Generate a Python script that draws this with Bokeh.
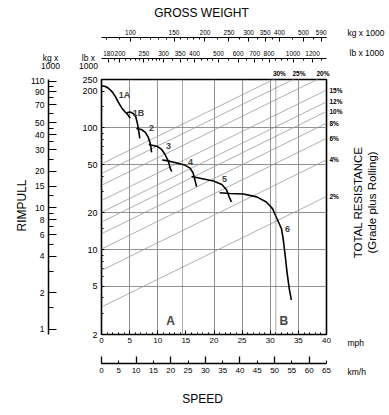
import math
from bokeh.plotting import figure
from bokeh.models import (Range1d, LogScale, LinearScale, LinearAxis, LogAxis, FixedTicker,
                          BasicTickFormatter, SingleIntervalTicker, Label,
                          Span, CustomJSTickFormatter)
from bokeh.embed import file_html
from bokeh.resources import INLINE

# ---------------- data ----------------
speed_range_mph = [0, 40]
speed_range_kmh = [0, 65]
rimpull_range_lb = [2, 250]            # lb x 1000
weight_range_lb = [168.4, 1365.6]      # lb x 1000 (gross weight across the frame)
LB_TO_KG = 0.45359

rimpull_lb_ticks = [2, 5, 10, 20, 50, 100, 200, 250]
rimpull_lb_minor = [3, 4, 6, 7, 8, 9, 15, 30, 40, 60, 70, 80, 90, 150]
rimpull_kg_ticks = [1, 2, 4, 6, 8, 10, 15, 20, 30, 40, 50, 70, 90, 110]
rimpull_kg_minor = [1.5, 3, 5, 7, 9, 12.5, 25, 35, 45, 60, 80, 100]
weight_lb_ticks = [180, 200, 250, 300, 350, 400, 500, 600, 700, 800, 1000, 1200]
weight_lb_minor = [190, 210, 220, 230, 240, 260, 270, 280, 290, 325, 375, 425, 450, 475,
                   550, 650, 750, 850, 900, 950, 1100, 1300]
weight_kg_ticks = [100, 150, 200, 250, 300, 350, 400, 500, 590]
weight_kg_minor = [80, 90, 110, 120, 130, 140, 160, 170, 180, 190, 225, 275, 325, 375, 450, 550]
speed_kmh_ticks = [0, 5, 10, 15, 20, 25, 30, 35, 40, 45, 50, 55, 60, 65]
speed_kmh_long = [0, 10, 20, 30, 40, 50, 60]
speed_grid = [5, 10, 20, 25, 30, 35]
rimpull_grid = [5, 10, 20, 50, 100]

resistance_pct = [2, 4, 6, 8, 10, 12, 15, 20, 25, 30]
resistance_right = [2, 4, 6, 8, 10, 12, 15]
resistance_top = [30, 25, 20]

marker_speeds = [14.4, 31.0]
marker_names = ["A", "B"]

gear_1A_mph = [0.0, 0.7, 1.3, 1.9, 2.5, 3.0, 3.6, 4.2, 4.7, 5.1]
gear_1A_rim = [222, 219, 211, 198, 180, 162, 146, 135, 128, 120]
gear_1B_mph = [4.5, 5.1, 5.7, 6.1, 6.4, 6.55, 6.7, 6.8]
gear_1B_rim = [133, 135, 131, 123, 108, 98, 89, 82]
gear_2_mph = [6.2, 7.1, 7.8, 8.3, 8.6, 8.8, 8.9]
gear_2_rim = [99, 97, 92, 84, 76, 69, 63]
gear_3_mph = [8.4, 9.0, 9.9, 10.7, 11.3, 11.9, 12.2, 12.5]
gear_3_rim = [73, 72, 70.5, 66.5, 60.4, 53, 46.7, 43.8]
gear_4_mph = [10.8, 11.6, 13.4, 14.9, 15.75, 16.3, 16.6, 16.9]
gear_4_rim = [54.5, 53.8, 51.4, 49.2, 46.7, 42.4, 37.4, 32.9]
gear_5_mph = [16.0, 17.5, 19.9, 21.4, 22.25, 22.7, 23.1]
gear_5_rim = [39.8, 38.5, 36.6, 34.3, 30.8, 27.1, 24.6]
gear_6_mph = [21.0, 22.8, 25.2, 27.6, 29.3, 30.4, 31.2, 32.0, 32.3, 32.6, 33.0, 33.4, 33.75]
gear_6_rim = [29.3, 28.9, 28.6, 27.1, 24.6, 21.7, 17.9, 14.8, 12.2, 9.4, 6.4, 4.7, 3.85]
gear_names = ["1A", "1B", "2", "3", "4", "5", "6"]

# ---------------- layout helpers (page px -> data, for text placement only) ----------------
FONT = "Liberation Sans"
PX0, PXS = 101.0, 5.625
PY10, PYD = 249.0, 121.5
TOP_LABEL_SHIFT = 10 ** (6 / 247.5)    # top % labels sit a few px right of their line ends


def mx(px):
    return (px - PX0) / PXS


def ry(py):
    return 10 ** (1 + (PY10 - py) / PYD)


p = figure(width=389, height=415, output_backend="svg", toolbar_location=None,
           x_range=Range1d(*speed_range_mph), y_range=Range1d(*rimpull_range_lb),
           y_axis_type="log",
           min_border_left=101, min_border_right=63, min_border_top=79, min_border_bottom=81,
           background_fill_color="white", border_fill_color="white",
           outline_line_color="black", outline_line_width=1.6)

p.extra_x_ranges = {"lb": Range1d(*weight_range_lb),
                    "kg": Range1d(weight_range_lb[0] * LB_TO_KG, weight_range_lb[1] * LB_TO_KG),
                    "kmh": Range1d(*speed_range_kmh)}
p.extra_x_scales = {"lb": LogScale(), "kg": LogScale(), "kmh": LinearScale()}
p.extra_y_ranges = {"kgr": Range1d(rimpull_range_lb[0] * LB_TO_KG, rimpull_range_lb[1] * LB_TO_KG)}
p.extra_y_scales = {"kgr": LogScale()}

fmt = BasicTickFormatter(use_scientific=False)


def style_axis(ax, tin, mtin, standoff, size, bold=False):
    ax.major_tick_in = tin
    ax.major_tick_out = 0
    ax.minor_tick_in = mtin
    ax.minor_tick_out = 0
    ax.major_label_standoff = standoff
    ax.major_label_text_font = FONT
    ax.major_label_text_font_size = size
    ax.major_label_text_font_style = "bold" if bold else "normal"
    ax.major_label_text_color = "black"
    ax.axis_line_color = "black"
    ax.major_tick_line_color = "black"
    ax.minor_tick_line_color = "black"


def spacer(ax, size, standoff):
    ax.axis_label = " "
    ax.axis_label_text_font_size = size
    ax.axis_label_standoff = standoff


def side_label(side, px, py, s, size, align="center", angle=0.0, bold=False):
    p.add_layout(Label(x=mx(px), y=ry(py), text=s, text_font=FONT, text_font_size=f"{size}px",
                       text_font_style="bold" if bold else "normal", text_align=align,
                       text_baseline="middle", angle=angle, text_color="black",
                       text_line_height=0.85), side)


# ---- main axes ----
xa = p.xaxis[0]
xa.ticker = SingleIntervalTicker(interval=5, num_minor_ticks=5)
style_axis(xa, 4, 2, 3, "8px")
spacer(xa, "3px", 2)

ya = p.yaxis[0]
ya.ticker = FixedTicker(ticks=rimpull_lb_ticks, minor_ticks=rimpull_lb_minor)
ya.formatter = fmt
style_axis(ya, 3, 2, 4, "9px")
spacer(ya, "4px", 4)

p.xgrid.ticker = FixedTicker(ticks=speed_grid)
p.ygrid.ticker = FixedTicker(ticks=rimpull_grid)
for g in (p.xgrid[0], p.ygrid[0]):
    g.grid_line_color = "#858585"
    g.grid_line_width = 0.9

# ---- LEFT stack: y axis, lb header, kg axis, RIMPULL ----
side_label("left", 88, 61.5, "lb x\n1000", 8.5)
kgr_ax = LogAxis(y_range_name="kgr", ticker=FixedTicker(ticks=rimpull_kg_ticks, minor_ticks=rimpull_kg_minor),
                 formatter=fmt)
style_axis(kgr_ax, 8, 5, 4, "8.5px")
kgr_ax.axis_line_width = 1.5
p.add_layout(kgr_ax, "left")
side_label("left", 21, 205, "RIMPULL", 12, angle=math.pi / 2)

# ---- RIGHT stack: percent labels, resistance title, km/h ----
right_ax = LogAxis(ticker=FixedTicker(ticks=[r / 100 * weight_range_lb[1] for r in resistance_right]),
                   formatter=CustomJSTickFormatter(args=dict(labels=[f"{r}%" for r in resistance_right]),
                                                   code="return labels[index];"))
style_axis(right_ax, 0, 0, 3, "6.5px", bold=True)
right_ax.axis_line_color = None
p.add_layout(right_ax, "right")
side_label("right", 357, 202, "TOTAL RESISTANCE", 11.5, angle=math.pi / 2)
side_label("right", 371, 202, "(Grade plus Rolling)", 11.5, angle=math.pi / 2)
side_label("right", 347, 371, "km/h", 8.5, align="left")

# ---- ABOVE stack: top percent labels, lb axis, kg axis, title ----
top_ax = LogAxis(x_range_name="lb",
                 ticker=FixedTicker(ticks=[rimpull_range_lb[1] / (r / 100) * TOP_LABEL_SHIFT
                                           for r in resistance_top]),
                 formatter=CustomJSTickFormatter(args=dict(labels=[f"{r}%" for r in resistance_top]),
                                                 code="return labels[index];"))
style_axis(top_ax, 0, 0, 3, "6.5px", bold=True)
top_ax.axis_line_color = None
spacer(top_ax, "3px", 2)
p.add_layout(top_ax, "above")
lb_ax = LogAxis(x_range_name="lb", ticker=FixedTicker(ticks=weight_lb_ticks, minor_ticks=weight_lb_minor),
                formatter=fmt)
style_axis(lb_ax, 4, 2, 3, "6.5px")
p.add_layout(lb_ax, "above")
side_label("above", 349, 53, "lb x 1000", 8.5, align="left")
kg_ax = LogAxis(x_range_name="kg", ticker=FixedTicker(ticks=weight_kg_ticks, minor_ticks=weight_kg_minor),
                formatter=fmt)
style_axis(kg_ax, 4, 2, 3, "6.5px")
p.add_layout(kg_ax, "above")
side_label("above", 347, 33, "kg x 1000", 8.5, align="left")
side_label("above", 201, 13, "GROSS WEIGHT", 12)

# ---- BELOW stack: x axis, mph, km/h axis, SPEED, kg header ----
side_label("below", 347, 342, "mph", 8.5, align="left")
kmh_ax = LinearAxis(x_range_name="kmh", ticker=FixedTicker(ticks=speed_kmh_ticks, minor_ticks=speed_kmh_long),
                    formatter=fmt)
style_axis(kmh_ax, 3, 7, 4, "8px")
kmh_ax.axis_line_width = 1.3
kmh_ax.minor_tick_line_width = 1.3
p.add_layout(kmh_ax, "below")
side_label("below", 202, 398, "SPEED", 12)
side_label("below", 50, 61.5, "kg x\n1000", 8.5)

# ---- resistance diagonals (rimpull = resistance x gross weight) ----
p.multi_line(xs=[list(weight_range_lb) for _ in resistance_pct],
             ys=[[r / 100 * w for w in weight_range_lb] for r in resistance_pct],
             x_range_name="lb", line_color="#9a9a9a", line_width=0.8)

# ---- gear curves ----
for xs, ys in [(gear_1A_mph, gear_1A_rim), (gear_1B_mph, gear_1B_rim), (gear_2_mph, gear_2_rim),
               (gear_3_mph, gear_3_rim), (gear_4_mph, gear_4_rim), (gear_5_mph, gear_5_rim),
               (gear_6_mph, gear_6_rim)]:
    p.line(xs, ys, line_color="black", line_width=1.6, line_join="round")

# ---- A / B dotted markers ----
for s in marker_speeds:
    p.add_layout(Span(location=s, dimension="height", line_color="#555555", line_width=1,
                      line_dash="1 1"))

# ---- in-frame labels ----
for name, (gx, gy) in zip(gear_names, [(124, 95), (138, 113), (151, 128), (168, 146),
                                        (190, 162), (224, 179), (287, 229)]):
    p.add_layout(Label(x=mx(gx), y=ry(gy), text=name, text_font=FONT, text_font_size="9px",
                       text_font_style="bold", text_align="center", text_baseline="middle"))

for name, s in zip(marker_names, marker_speeds):
    p.add_layout(Label(x=s, y=ry(320), x_offset=-12 if name == "A" else 8, text=name,
                       text_font=FONT, text_font_size="12px", text_font_style="bold",
                       text_align="center", text_baseline="middle"))

open("out.html", "w").write(file_html(p, INLINE))
